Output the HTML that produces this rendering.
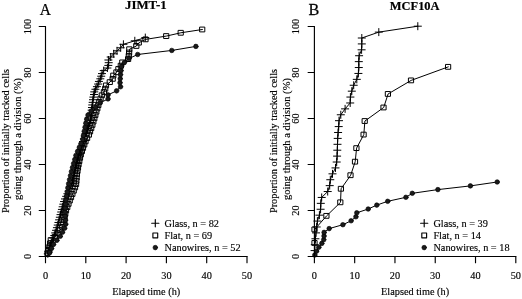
<!DOCTYPE html>
<html><head><meta charset="utf-8"><style>
html,body{margin:0;padding:0;background:#fff;}
svg{display:block;will-change:transform;}
.t{font-family:"Liberation Serif",serif;font-size:10.3px;fill:#000;stroke:#000;stroke-width:0.15px;}
.ttl{font-family:"Liberation Serif",serif;font-size:12.4px;font-weight:bold;fill:#000;stroke:#000;stroke-width:0.2px;}
.lt{font-family:"Liberation Serif",serif;font-size:18.3px;fill:#000;stroke:#000;stroke-width:0.25px;}
</style></head><body>
<svg width="522" height="299" viewBox="0 0 522 299">
<g fill="none" stroke="#000" stroke-width="1.15" stroke-linecap="round" stroke-linejoin="round">
<path d="M45.5,26.5V256.5H247" />
<path d="M39.2,256.50H45.5"/>
<text class="t" transform="translate(30.50,256.50) rotate(-90)" text-anchor="middle">0</text>
<path d="M39.2,210.50H45.5"/>
<text class="t" transform="translate(30.50,210.50) rotate(-90)" text-anchor="middle">20</text>
<path d="M39.2,164.50H45.5"/>
<text class="t" transform="translate(30.50,164.50) rotate(-90)" text-anchor="middle">40</text>
<path d="M39.2,118.50H45.5"/>
<text class="t" transform="translate(30.50,118.50) rotate(-90)" text-anchor="middle">60</text>
<path d="M39.2,72.50H45.5"/>
<text class="t" transform="translate(30.50,72.50) rotate(-90)" text-anchor="middle">80</text>
<path d="M39.2,26.50H45.5"/>
<text class="t" transform="translate(30.50,26.50) rotate(-90)" text-anchor="middle">100</text>
<path d="M45.50,256.5V262.7"/>
<text class="t" x="45.50" y="279.4" text-anchor="middle">0</text>
<path d="M85.80,256.5V262.7"/>
<text class="t" x="85.80" y="279.4" text-anchor="middle">10</text>
<path d="M126.10,256.5V262.7"/>
<text class="t" x="126.10" y="279.4" text-anchor="middle">20</text>
<path d="M166.40,256.5V262.7"/>
<text class="t" x="166.40" y="279.4" text-anchor="middle">30</text>
<path d="M206.70,256.5V262.7"/>
<text class="t" x="206.70" y="279.4" text-anchor="middle">40</text>
<path d="M247.00,256.5V262.7"/>
<text class="t" x="247.00" y="279.4" text-anchor="middle">50</text>
<text class="t" x="146.25" y="295" text-anchor="middle">Elapsed time (h)</text>
<text class="t" transform="translate(8.50,141) rotate(-90)" text-anchor="middle">Proportion of initially tracked cells</text>
<text class="t" style="font-size:10.55px" transform="translate(21.30,139.0) rotate(-90)" text-anchor="middle">going through a division (%)</text>
<text class="ttl" style="font-size:12.9px" x="145.85" y="9.4" text-anchor="middle">JIMT-1</text>
<text class="lt" style="font-size:17.2px" transform="translate(45.3,15.2) scale(0.9,1)" text-anchor="middle">A</text>
<path d="M151.70,223.20H158.90M155.30,219.60V226.80"/>
<text class="t" x="164.50" y="227.00">Glass, n = 82</text>
<rect x="152.90" y="233.00" width="4.8" height="4.8" fill="none"/>
<text class="t" x="164.50" y="239.20">Flat, n = 69</text>
<circle cx="155.30" cy="247.60" r="2.3" fill="#1a1a1a" stroke="#000" stroke-width="0.6"/>
<text class="t" x="164.50" y="251.40">Nanowires, n = 52</text><g stroke-width="1.0"><path d="M47.82,253.80 L48.62,251.19 L49.41,248.58 L50.21,245.97 L51.16,243.35 L52.20,240.74 L53.25,238.13 L54.29,235.52 L55.20,232.91 L56.07,230.30 L56.94,227.68 L57.75,225.07 L58.44,222.46 L59.14,219.85 L59.84,217.24 L60.53,214.63 L61.23,212.01 L61.94,209.40 L62.65,206.79 L63.36,204.18 L64.07,201.57 L64.99,198.96 L66.21,196.34 L67.42,193.73 L68.64,191.12 L69.86,188.51 L71.08,185.90 L71.90,183.29 L72.51,180.68 L73.12,178.06 L73.73,175.45 L74.34,172.84 L74.95,170.23 L75.60,167.62 L76.27,165.01 L76.93,162.39 L77.59,159.78 L78.25,157.17 L78.94,154.56 L79.76,151.95 L80.57,149.34 L81.39,146.72 L82.21,144.11 L83.03,141.50 L83.89,138.89 L84.80,136.28 L85.72,133.67 L86.63,131.06 L87.54,128.44 L88.46,125.83 L89.37,123.22 L90.29,120.61 L90.74,118.00 L91.05,115.39 L91.36,112.77 L91.66,110.16 L91.97,107.55 L92.28,104.94 L92.65,102.33 L93.00,99.72 L93.37,97.10 L94.00,94.49 L94.28,91.88 L95.44,89.27 L96.92,86.66 L98.11,84.05 L98.94,81.43 L100.33,78.82 L101.19,76.21 L102.00,73.60 L103.70,70.60 L107.40,68.00 L108.30,65.40 L108.70,62.70 L108.40,60.00 L110.70,57.00 L113.70,53.80 L117.00,50.80 L120.70,47.80 L123.40,44.30 L134.80,40.80 L145.30,37.60"/>
<path d="M44.22,253.80H51.42M47.82,250.20V257.40"/>
<path d="M45.02,251.19H52.22M48.62,247.59V254.79"/>
<path d="M45.81,248.58H53.01M49.41,244.98V252.18"/>
<path d="M46.61,245.97H53.81M50.21,242.37V249.57"/>
<path d="M47.56,243.35H54.76M51.16,239.75V246.95"/>
<path d="M48.60,240.74H55.80M52.20,237.14V244.34"/>
<path d="M49.65,238.13H56.85M53.25,234.53V241.73"/>
<path d="M50.69,235.52H57.89M54.29,231.92V239.12"/>
<path d="M51.60,232.91H58.80M55.20,229.31V236.51"/>
<path d="M52.47,230.30H59.67M56.07,226.70V233.90"/>
<path d="M53.34,227.68H60.54M56.94,224.08V231.28"/>
<path d="M54.15,225.07H61.35M57.75,221.47V228.67"/>
<path d="M54.84,222.46H62.04M58.44,218.86V226.06"/>
<path d="M55.54,219.85H62.74M59.14,216.25V223.45"/>
<path d="M56.24,217.24H63.44M59.84,213.64V220.84"/>
<path d="M56.93,214.63H64.13M60.53,211.03V218.23"/>
<path d="M57.63,212.01H64.83M61.23,208.41V215.61"/>
<path d="M58.34,209.40H65.54M61.94,205.80V213.00"/>
<path d="M59.05,206.79H66.25M62.65,203.19V210.39"/>
<path d="M59.76,204.18H66.96M63.36,200.58V207.78"/>
<path d="M60.47,201.57H67.67M64.07,197.97V205.17"/>
<path d="M61.39,198.96H68.59M64.99,195.36V202.56"/>
<path d="M62.61,196.34H69.81M66.21,192.74V199.94"/>
<path d="M63.82,193.73H71.02M67.42,190.13V197.33"/>
<path d="M65.04,191.12H72.24M68.64,187.52V194.72"/>
<path d="M66.26,188.51H73.46M69.86,184.91V192.11"/>
<path d="M67.48,185.90H74.68M71.08,182.30V189.50"/>
<path d="M68.30,183.29H75.50M71.90,179.69V186.89"/>
<path d="M68.91,180.68H76.11M72.51,177.08V184.28"/>
<path d="M69.52,178.06H76.72M73.12,174.46V181.66"/>
<path d="M70.13,175.45H77.33M73.73,171.85V179.05"/>
<path d="M70.74,172.84H77.94M74.34,169.24V176.44"/>
<path d="M71.35,170.23H78.55M74.95,166.63V173.83"/>
<path d="M72.00,167.62H79.20M75.60,164.02V171.22"/>
<path d="M72.67,165.01H79.87M76.27,161.41V168.61"/>
<path d="M73.33,162.39H80.53M76.93,158.79V165.99"/>
<path d="M73.99,159.78H81.19M77.59,156.18V163.38"/>
<path d="M74.65,157.17H81.85M78.25,153.57V160.77"/>
<path d="M75.34,154.56H82.54M78.94,150.96V158.16"/>
<path d="M76.16,151.95H83.36M79.76,148.35V155.55"/>
<path d="M76.97,149.34H84.17M80.57,145.74V152.94"/>
<path d="M77.79,146.72H84.99M81.39,143.12V150.32"/>
<path d="M78.61,144.11H85.81M82.21,140.51V147.71"/>
<path d="M79.43,141.50H86.63M83.03,137.90V145.10"/>
<path d="M80.29,138.89H87.49M83.89,135.29V142.49"/>
<path d="M81.20,136.28H88.40M84.80,132.68V139.88"/>
<path d="M82.12,133.67H89.32M85.72,130.07V137.27"/>
<path d="M83.03,131.06H90.23M86.63,127.46V134.66"/>
<path d="M83.94,128.44H91.14M87.54,124.84V132.04"/>
<path d="M84.86,125.83H92.06M88.46,122.23V129.43"/>
<path d="M85.77,123.22H92.97M89.37,119.62V126.82"/>
<path d="M86.69,120.61H93.89M90.29,117.01V124.21"/>
<path d="M87.14,118.00H94.34M90.74,114.40V121.60"/>
<path d="M87.45,115.39H94.65M91.05,111.79V118.99"/>
<path d="M87.76,112.77H94.96M91.36,109.17V116.37"/>
<path d="M88.06,110.16H95.26M91.66,106.56V113.76"/>
<path d="M88.37,107.55H95.57M91.97,103.95V111.15"/>
<path d="M88.68,104.94H95.88M92.28,101.34V108.54"/>
<path d="M89.05,102.33H96.25M92.65,98.73V105.93"/>
<path d="M89.40,99.72H96.60M93.00,96.12V103.32"/>
<path d="M89.77,97.10H96.97M93.37,93.50V100.70"/>
<path d="M90.40,94.49H97.60M94.00,90.89V98.09"/>
<path d="M90.68,91.88H97.88M94.28,88.28V95.48"/>
<path d="M91.84,89.27H99.04M95.44,85.67V92.87"/>
<path d="M93.32,86.66H100.52M96.92,83.06V90.26"/>
<path d="M94.51,84.05H101.71M98.11,80.45V87.65"/>
<path d="M95.34,81.43H102.54M98.94,77.83V85.03"/>
<path d="M96.73,78.82H103.93M100.33,75.22V82.42"/>
<path d="M97.59,76.21H104.79M101.19,72.61V79.81"/>
<path d="M98.40,73.60H105.60M102.00,70.00V77.20"/>
<path d="M100.10,70.60H107.30M103.70,67.00V74.20"/>
<path d="M103.80,68.00H111.00M107.40,64.40V71.60"/>
<path d="M104.70,65.40H111.90M108.30,61.80V69.00"/>
<path d="M105.10,62.70H112.30M108.70,59.10V66.30"/>
<path d="M104.80,60.00H112.00M108.40,56.40V63.60"/>
<path d="M107.10,57.00H114.30M110.70,53.40V60.60"/>
<path d="M110.10,53.80H117.30M113.70,50.20V57.40"/>
<path d="M113.40,50.80H120.60M117.00,47.20V54.40"/>
<path d="M117.10,47.80H124.30M120.70,44.20V51.40"/>
<path d="M119.80,44.30H127.00M123.40,40.70V47.90"/>
<path d="M131.20,40.80H138.40M134.80,37.20V44.40"/>
<path d="M141.70,37.60H148.90M145.30,34.00V41.20"/>
</g><g stroke-width="1.0"><path d="M47.66,253.21 L48.82,249.92 L49.76,246.63 L50.37,243.34 L50.99,240.05 L55.05,236.76 L57.77,233.47 L60.07,230.18 L62.38,226.89 L63.48,223.60 L64.14,220.31 L64.80,217.02 L65.45,213.73 L66.21,210.44 L67.44,207.15 L68.66,203.86 L69.89,200.57 L71.21,197.28 L72.54,193.99 L73.88,190.70 L75.22,187.41 L76.27,184.12 L76.53,180.83 L76.80,177.54 L77.12,174.25 L77.65,170.96 L78.17,167.67 L78.74,164.38 L79.46,161.09 L80.18,157.80 L80.97,154.51 L82.08,151.22 L83.19,147.93 L84.41,144.64 L85.68,141.35 L87.29,138.06 L89.08,134.77 L90.23,131.48 L91.38,128.19 L92.53,124.90 L93.53,121.61 L94.52,118.32 L95.52,115.03 L96.52,111.74 L97.52,108.45 L98.51,105.16 L99.51,101.87 L100.76,98.58 L102.01,95.29 L104.10,92.00 L105.40,88.71 L106.20,85.42 L109.97,82.13 L112.86,78.84 L113.49,75.55 L116.62,72.26 L118.62,68.97 L121.01,65.68 L122.52,62.39 L128.30,59.10 L129.00,55.81 L129.30,52.52 L129.50,49.23 L136.51,45.94 L138.96,42.65 L145.70,39.36 L166.40,36.07 L180.90,32.78 L202.40,29.49"/>
<rect x="45.26" y="250.81" width="4.8" height="4.8" fill="none"/>
<rect x="46.42" y="247.52" width="4.8" height="4.8" fill="none"/>
<rect x="47.36" y="244.23" width="4.8" height="4.8" fill="none"/>
<rect x="47.97" y="240.94" width="4.8" height="4.8" fill="none"/>
<rect x="48.59" y="237.65" width="4.8" height="4.8" fill="none"/>
<rect x="52.65" y="234.36" width="4.8" height="4.8" fill="none"/>
<rect x="55.37" y="231.07" width="4.8" height="4.8" fill="none"/>
<rect x="57.67" y="227.78" width="4.8" height="4.8" fill="none"/>
<rect x="59.98" y="224.49" width="4.8" height="4.8" fill="none"/>
<rect x="61.08" y="221.20" width="4.8" height="4.8" fill="none"/>
<rect x="61.74" y="217.91" width="4.8" height="4.8" fill="none"/>
<rect x="62.40" y="214.62" width="4.8" height="4.8" fill="none"/>
<rect x="63.05" y="211.33" width="4.8" height="4.8" fill="none"/>
<rect x="63.81" y="208.04" width="4.8" height="4.8" fill="none"/>
<rect x="65.03" y="204.75" width="4.8" height="4.8" fill="none"/>
<rect x="66.26" y="201.46" width="4.8" height="4.8" fill="none"/>
<rect x="67.49" y="198.17" width="4.8" height="4.8" fill="none"/>
<rect x="68.81" y="194.88" width="4.8" height="4.8" fill="none"/>
<rect x="70.14" y="191.59" width="4.8" height="4.8" fill="none"/>
<rect x="71.48" y="188.30" width="4.8" height="4.8" fill="none"/>
<rect x="72.82" y="185.01" width="4.8" height="4.8" fill="none"/>
<rect x="73.87" y="181.72" width="4.8" height="4.8" fill="none"/>
<rect x="74.13" y="178.43" width="4.8" height="4.8" fill="none"/>
<rect x="74.40" y="175.14" width="4.8" height="4.8" fill="none"/>
<rect x="74.72" y="171.85" width="4.8" height="4.8" fill="none"/>
<rect x="75.25" y="168.56" width="4.8" height="4.8" fill="none"/>
<rect x="75.77" y="165.27" width="4.8" height="4.8" fill="none"/>
<rect x="76.34" y="161.98" width="4.8" height="4.8" fill="none"/>
<rect x="77.06" y="158.69" width="4.8" height="4.8" fill="none"/>
<rect x="77.78" y="155.40" width="4.8" height="4.8" fill="none"/>
<rect x="78.57" y="152.11" width="4.8" height="4.8" fill="none"/>
<rect x="79.68" y="148.82" width="4.8" height="4.8" fill="none"/>
<rect x="80.79" y="145.53" width="4.8" height="4.8" fill="none"/>
<rect x="82.01" y="142.24" width="4.8" height="4.8" fill="none"/>
<rect x="83.28" y="138.95" width="4.8" height="4.8" fill="none"/>
<rect x="84.89" y="135.66" width="4.8" height="4.8" fill="none"/>
<rect x="86.68" y="132.37" width="4.8" height="4.8" fill="none"/>
<rect x="87.83" y="129.08" width="4.8" height="4.8" fill="none"/>
<rect x="88.98" y="125.79" width="4.8" height="4.8" fill="none"/>
<rect x="90.13" y="122.50" width="4.8" height="4.8" fill="none"/>
<rect x="91.13" y="119.21" width="4.8" height="4.8" fill="none"/>
<rect x="92.12" y="115.92" width="4.8" height="4.8" fill="none"/>
<rect x="93.12" y="112.63" width="4.8" height="4.8" fill="none"/>
<rect x="94.12" y="109.34" width="4.8" height="4.8" fill="none"/>
<rect x="95.12" y="106.05" width="4.8" height="4.8" fill="none"/>
<rect x="96.11" y="102.76" width="4.8" height="4.8" fill="none"/>
<rect x="97.11" y="99.47" width="4.8" height="4.8" fill="none"/>
<rect x="98.36" y="96.18" width="4.8" height="4.8" fill="none"/>
<rect x="99.61" y="92.89" width="4.8" height="4.8" fill="none"/>
<rect x="101.70" y="89.60" width="4.8" height="4.8" fill="none"/>
<rect x="103.00" y="86.31" width="4.8" height="4.8" fill="none"/>
<rect x="103.80" y="83.02" width="4.8" height="4.8" fill="none"/>
<rect x="107.57" y="79.73" width="4.8" height="4.8" fill="none"/>
<rect x="110.46" y="76.44" width="4.8" height="4.8" fill="none"/>
<rect x="111.09" y="73.15" width="4.8" height="4.8" fill="none"/>
<rect x="114.22" y="69.86" width="4.8" height="4.8" fill="none"/>
<rect x="116.22" y="66.57" width="4.8" height="4.8" fill="none"/>
<rect x="118.61" y="63.28" width="4.8" height="4.8" fill="none"/>
<rect x="120.12" y="59.99" width="4.8" height="4.8" fill="none"/>
<rect x="125.90" y="56.70" width="4.8" height="4.8" fill="none"/>
<rect x="126.60" y="53.41" width="4.8" height="4.8" fill="none"/>
<rect x="126.90" y="50.12" width="4.8" height="4.8" fill="none"/>
<rect x="127.10" y="46.83" width="4.8" height="4.8" fill="none"/>
<rect x="134.11" y="43.54" width="4.8" height="4.8" fill="none"/>
<rect x="136.56" y="40.25" width="4.8" height="4.8" fill="none"/>
<rect x="143.30" y="36.96" width="4.8" height="4.8" fill="none"/>
<rect x="164.00" y="33.67" width="4.8" height="4.8" fill="none"/>
<rect x="178.50" y="30.38" width="4.8" height="4.8" fill="none"/>
<rect x="200.00" y="27.09" width="4.8" height="4.8" fill="none"/>
</g><g stroke-width="1.0"><path d="M49.76,252.46 L51.51,248.42 L53.52,244.38 L56.88,240.34 L60.25,236.30 L62.48,232.26 L64.62,228.22 L65.70,224.18 L65.49,220.14 L65.27,216.10 L65.06,212.06 L65.27,208.02 L65.64,203.98 L66.01,199.94 L66.63,195.89 L67.25,191.85 L67.87,187.81 L68.59,183.77 L69.53,179.73 L70.47,175.69 L71.41,171.65 L72.47,167.61 L73.60,163.57 L74.73,159.53 L75.86,155.49 L77.56,151.45 L79.34,147.41 L81.12,143.37 L82.73,139.33 L83.50,135.29 L84.26,131.25 L85.03,127.21 L85.80,123.17 L86.68,119.13 L87.97,115.09 L91.16,111.05 L95.42,107.01 L100.00,102.97 L108.00,98.93 L108.00,94.89 L116.60,90.85 L120.50,86.81 L120.00,82.76 L120.20,78.72 L120.50,74.68 L121.00,70.64 L121.50,66.60 L124.40,62.56 L129.00,58.52 L137.70,54.48 L171.80,50.44 L195.90,46.40"/>
<circle cx="49.76" cy="252.46" r="2.3" fill="#1a1a1a" stroke="#000" stroke-width="0.6"/>
<circle cx="51.51" cy="248.42" r="2.3" fill="#1a1a1a" stroke="#000" stroke-width="0.6"/>
<circle cx="53.52" cy="244.38" r="2.3" fill="#1a1a1a" stroke="#000" stroke-width="0.6"/>
<circle cx="56.88" cy="240.34" r="2.3" fill="#1a1a1a" stroke="#000" stroke-width="0.6"/>
<circle cx="60.25" cy="236.30" r="2.3" fill="#1a1a1a" stroke="#000" stroke-width="0.6"/>
<circle cx="62.48" cy="232.26" r="2.3" fill="#1a1a1a" stroke="#000" stroke-width="0.6"/>
<circle cx="64.62" cy="228.22" r="2.3" fill="#1a1a1a" stroke="#000" stroke-width="0.6"/>
<circle cx="65.70" cy="224.18" r="2.3" fill="#1a1a1a" stroke="#000" stroke-width="0.6"/>
<circle cx="65.49" cy="220.14" r="2.3" fill="#1a1a1a" stroke="#000" stroke-width="0.6"/>
<circle cx="65.27" cy="216.10" r="2.3" fill="#1a1a1a" stroke="#000" stroke-width="0.6"/>
<circle cx="65.06" cy="212.06" r="2.3" fill="#1a1a1a" stroke="#000" stroke-width="0.6"/>
<circle cx="65.27" cy="208.02" r="2.3" fill="#1a1a1a" stroke="#000" stroke-width="0.6"/>
<circle cx="65.64" cy="203.98" r="2.3" fill="#1a1a1a" stroke="#000" stroke-width="0.6"/>
<circle cx="66.01" cy="199.94" r="2.3" fill="#1a1a1a" stroke="#000" stroke-width="0.6"/>
<circle cx="66.63" cy="195.89" r="2.3" fill="#1a1a1a" stroke="#000" stroke-width="0.6"/>
<circle cx="67.25" cy="191.85" r="2.3" fill="#1a1a1a" stroke="#000" stroke-width="0.6"/>
<circle cx="67.87" cy="187.81" r="2.3" fill="#1a1a1a" stroke="#000" stroke-width="0.6"/>
<circle cx="68.59" cy="183.77" r="2.3" fill="#1a1a1a" stroke="#000" stroke-width="0.6"/>
<circle cx="69.53" cy="179.73" r="2.3" fill="#1a1a1a" stroke="#000" stroke-width="0.6"/>
<circle cx="70.47" cy="175.69" r="2.3" fill="#1a1a1a" stroke="#000" stroke-width="0.6"/>
<circle cx="71.41" cy="171.65" r="2.3" fill="#1a1a1a" stroke="#000" stroke-width="0.6"/>
<circle cx="72.47" cy="167.61" r="2.3" fill="#1a1a1a" stroke="#000" stroke-width="0.6"/>
<circle cx="73.60" cy="163.57" r="2.3" fill="#1a1a1a" stroke="#000" stroke-width="0.6"/>
<circle cx="74.73" cy="159.53" r="2.3" fill="#1a1a1a" stroke="#000" stroke-width="0.6"/>
<circle cx="75.86" cy="155.49" r="2.3" fill="#1a1a1a" stroke="#000" stroke-width="0.6"/>
<circle cx="77.56" cy="151.45" r="2.3" fill="#1a1a1a" stroke="#000" stroke-width="0.6"/>
<circle cx="79.34" cy="147.41" r="2.3" fill="#1a1a1a" stroke="#000" stroke-width="0.6"/>
<circle cx="81.12" cy="143.37" r="2.3" fill="#1a1a1a" stroke="#000" stroke-width="0.6"/>
<circle cx="82.73" cy="139.33" r="2.3" fill="#1a1a1a" stroke="#000" stroke-width="0.6"/>
<circle cx="83.50" cy="135.29" r="2.3" fill="#1a1a1a" stroke="#000" stroke-width="0.6"/>
<circle cx="84.26" cy="131.25" r="2.3" fill="#1a1a1a" stroke="#000" stroke-width="0.6"/>
<circle cx="85.03" cy="127.21" r="2.3" fill="#1a1a1a" stroke="#000" stroke-width="0.6"/>
<circle cx="85.80" cy="123.17" r="2.3" fill="#1a1a1a" stroke="#000" stroke-width="0.6"/>
<circle cx="86.68" cy="119.13" r="2.3" fill="#1a1a1a" stroke="#000" stroke-width="0.6"/>
<circle cx="87.97" cy="115.09" r="2.3" fill="#1a1a1a" stroke="#000" stroke-width="0.6"/>
<circle cx="91.16" cy="111.05" r="2.3" fill="#1a1a1a" stroke="#000" stroke-width="0.6"/>
<circle cx="95.42" cy="107.01" r="2.3" fill="#1a1a1a" stroke="#000" stroke-width="0.6"/>
<circle cx="100.00" cy="102.97" r="2.3" fill="#1a1a1a" stroke="#000" stroke-width="0.6"/>
<circle cx="108.00" cy="98.93" r="2.3" fill="#1a1a1a" stroke="#000" stroke-width="0.6"/>
<circle cx="108.00" cy="94.89" r="2.3" fill="#1a1a1a" stroke="#000" stroke-width="0.6"/>
<circle cx="116.60" cy="90.85" r="2.3" fill="#1a1a1a" stroke="#000" stroke-width="0.6"/>
<circle cx="120.50" cy="86.81" r="2.3" fill="#1a1a1a" stroke="#000" stroke-width="0.6"/>
<circle cx="120.00" cy="82.76" r="2.3" fill="#1a1a1a" stroke="#000" stroke-width="0.6"/>
<circle cx="120.20" cy="78.72" r="2.3" fill="#1a1a1a" stroke="#000" stroke-width="0.6"/>
<circle cx="120.50" cy="74.68" r="2.3" fill="#1a1a1a" stroke="#000" stroke-width="0.6"/>
<circle cx="121.00" cy="70.64" r="2.3" fill="#1a1a1a" stroke="#000" stroke-width="0.6"/>
<circle cx="121.50" cy="66.60" r="2.3" fill="#1a1a1a" stroke="#000" stroke-width="0.6"/>
<circle cx="124.40" cy="62.56" r="2.3" fill="#1a1a1a" stroke="#000" stroke-width="0.6"/>
<circle cx="129.00" cy="58.52" r="2.3" fill="#1a1a1a" stroke="#000" stroke-width="0.6"/>
<circle cx="137.70" cy="54.48" r="2.3" fill="#1a1a1a" stroke="#000" stroke-width="0.6"/>
<circle cx="171.80" cy="50.44" r="2.3" fill="#1a1a1a" stroke="#000" stroke-width="0.6"/>
<circle cx="195.90" cy="46.40" r="2.3" fill="#1a1a1a" stroke="#000" stroke-width="0.6"/>
</g><g stroke-width="1.0"><path d="M314.60,250.59 L314.80,244.69 L315.40,238.78 L316.00,232.88 L316.70,226.97 L317.40,221.07 L319.40,215.16 L320.60,209.26 L320.80,203.35 L321.70,197.45 L327.70,191.54 L329.70,185.64 L330.30,179.73 L332.50,173.83 L335.50,167.92 L336.70,162.02 L337.10,156.11 L337.30,150.21 L337.50,144.30 L337.70,138.40 L338.10,132.49 L338.70,126.59 L339.00,120.68 L340.80,114.78 L345.10,108.87 L350.20,102.97 L350.40,97.06 L351.80,91.16 L353.70,85.25 L356.80,79.35 L358.40,73.44 L358.80,67.54 L358.80,61.63 L359.10,55.73 L361.60,49.82 L361.80,43.92 L361.80,38.01 L378.80,32.11 L417.80,26.20"/>
<path d="M311.00,250.59H318.20M314.60,246.99V254.19"/>
<path d="M311.20,244.69H318.40M314.80,241.09V248.29"/>
<path d="M311.80,238.78H319.00M315.40,235.18V242.38"/>
<path d="M312.40,232.88H319.60M316.00,229.28V236.48"/>
<path d="M313.10,226.97H320.30M316.70,223.37V230.57"/>
<path d="M313.80,221.07H321.00M317.40,217.47V224.67"/>
<path d="M315.80,215.16H323.00M319.40,211.56V218.76"/>
<path d="M317.00,209.26H324.20M320.60,205.66V212.86"/>
<path d="M317.20,203.35H324.40M320.80,199.75V206.95"/>
<path d="M318.10,197.45H325.30M321.70,193.85V201.05"/>
<path d="M324.10,191.54H331.30M327.70,187.94V195.14"/>
<path d="M326.10,185.64H333.30M329.70,182.04V189.24"/>
<path d="M326.70,179.73H333.90M330.30,176.13V183.33"/>
<path d="M328.90,173.83H336.10M332.50,170.23V177.43"/>
<path d="M331.90,167.92H339.10M335.50,164.32V171.52"/>
<path d="M333.10,162.02H340.30M336.70,158.42V165.62"/>
<path d="M333.50,156.11H340.70M337.10,152.51V159.71"/>
<path d="M333.70,150.21H340.90M337.30,146.61V153.81"/>
<path d="M333.90,144.30H341.10M337.50,140.70V147.90"/>
<path d="M334.10,138.40H341.30M337.70,134.80V142.00"/>
<path d="M334.50,132.49H341.70M338.10,128.89V136.09"/>
<path d="M335.10,126.59H342.30M338.70,122.99V130.19"/>
<path d="M335.40,120.68H342.60M339.00,117.08V124.28"/>
<path d="M337.20,114.78H344.40M340.80,111.18V118.38"/>
<path d="M341.50,108.87H348.70M345.10,105.27V112.47"/>
<path d="M346.60,102.97H353.80M350.20,99.37V106.57"/>
<path d="M346.80,97.06H354.00M350.40,93.46V100.66"/>
<path d="M348.20,91.16H355.40M351.80,87.56V94.76"/>
<path d="M350.10,85.25H357.30M353.70,81.65V88.85"/>
<path d="M353.20,79.35H360.40M356.80,75.75V82.95"/>
<path d="M354.80,73.44H362.00M358.40,69.84V77.04"/>
<path d="M355.20,67.54H362.40M358.80,63.94V71.14"/>
<path d="M355.20,61.63H362.40M358.80,58.03V65.23"/>
<path d="M355.50,55.73H362.70M359.10,52.13V59.33"/>
<path d="M358.00,49.82H365.20M361.60,46.22V53.42"/>
<path d="M358.20,43.92H365.40M361.80,40.32V47.52"/>
<path d="M358.20,38.01H365.40M361.80,34.41V41.61"/>
<path d="M375.20,32.11H382.40M378.80,28.51V35.71"/>
<path d="M414.20,26.20H421.40M417.80,22.60V29.80"/>
</g><g stroke-width="1.0"><path d="M314.70,242.95 L314.70,229.41 L326.60,215.86 L340.50,202.31 L341.10,188.76 L350.70,175.22 L355.20,161.67 L356.60,148.12 L363.80,134.58 L364.90,121.03 L383.70,107.48 L388.10,93.94 L411.20,80.39 L448.30,66.84"/>
<rect x="312.30" y="240.55" width="4.8" height="4.8" fill="none"/>
<rect x="312.30" y="227.01" width="4.8" height="4.8" fill="none"/>
<rect x="324.20" y="213.46" width="4.8" height="4.8" fill="none"/>
<rect x="338.10" y="199.91" width="4.8" height="4.8" fill="none"/>
<rect x="338.70" y="186.36" width="4.8" height="4.8" fill="none"/>
<rect x="348.30" y="172.82" width="4.8" height="4.8" fill="none"/>
<rect x="352.80" y="159.27" width="4.8" height="4.8" fill="none"/>
<rect x="354.20" y="145.72" width="4.8" height="4.8" fill="none"/>
<rect x="361.40" y="132.18" width="4.8" height="4.8" fill="none"/>
<rect x="362.50" y="118.63" width="4.8" height="4.8" fill="none"/>
<rect x="381.30" y="105.08" width="4.8" height="4.8" fill="none"/>
<rect x="385.70" y="91.54" width="4.8" height="4.8" fill="none"/>
<rect x="408.80" y="77.99" width="4.8" height="4.8" fill="none"/>
<rect x="445.90" y="64.44" width="4.8" height="4.8" fill="none"/>
</g><g stroke-width="1.0"><path d="M314.80,255.00 L316.50,251.20 L318.80,247.30 L321.80,243.40 L323.70,239.70 L324.00,236.00 L324.10,232.40 L329.20,228.60 L342.90,224.70 L351.10,220.80 L355.90,216.80 L356.80,212.80 L368.20,209.00 L376.80,205.10 L387.70,201.30 L405.90,197.30 L412.30,193.30 L437.90,189.60 L470.40,185.90 L497.20,182.00"/>
<circle cx="314.80" cy="255.00" r="2.3" fill="#1a1a1a" stroke="#000" stroke-width="0.6"/>
<circle cx="316.50" cy="251.20" r="2.3" fill="#1a1a1a" stroke="#000" stroke-width="0.6"/>
<circle cx="318.80" cy="247.30" r="2.3" fill="#1a1a1a" stroke="#000" stroke-width="0.6"/>
<circle cx="321.80" cy="243.40" r="2.3" fill="#1a1a1a" stroke="#000" stroke-width="0.6"/>
<circle cx="323.70" cy="239.70" r="2.3" fill="#1a1a1a" stroke="#000" stroke-width="0.6"/>
<circle cx="324.00" cy="236.00" r="2.3" fill="#1a1a1a" stroke="#000" stroke-width="0.6"/>
<circle cx="324.10" cy="232.40" r="2.3" fill="#1a1a1a" stroke="#000" stroke-width="0.6"/>
<circle cx="329.20" cy="228.60" r="2.3" fill="#1a1a1a" stroke="#000" stroke-width="0.6"/>
<circle cx="342.90" cy="224.70" r="2.3" fill="#1a1a1a" stroke="#000" stroke-width="0.6"/>
<circle cx="351.10" cy="220.80" r="2.3" fill="#1a1a1a" stroke="#000" stroke-width="0.6"/>
<circle cx="355.90" cy="216.80" r="2.3" fill="#1a1a1a" stroke="#000" stroke-width="0.6"/>
<circle cx="356.80" cy="212.80" r="2.3" fill="#1a1a1a" stroke="#000" stroke-width="0.6"/>
<circle cx="368.20" cy="209.00" r="2.3" fill="#1a1a1a" stroke="#000" stroke-width="0.6"/>
<circle cx="376.80" cy="205.10" r="2.3" fill="#1a1a1a" stroke="#000" stroke-width="0.6"/>
<circle cx="387.70" cy="201.30" r="2.3" fill="#1a1a1a" stroke="#000" stroke-width="0.6"/>
<circle cx="405.90" cy="197.30" r="2.3" fill="#1a1a1a" stroke="#000" stroke-width="0.6"/>
<circle cx="412.30" cy="193.30" r="2.3" fill="#1a1a1a" stroke="#000" stroke-width="0.6"/>
<circle cx="437.90" cy="189.60" r="2.3" fill="#1a1a1a" stroke="#000" stroke-width="0.6"/>
<circle cx="470.40" cy="185.90" r="2.3" fill="#1a1a1a" stroke="#000" stroke-width="0.6"/>
<circle cx="497.20" cy="182.00" r="2.3" fill="#1a1a1a" stroke="#000" stroke-width="0.6"/>
</g><path d="M314.4,26.5V256.5H515.8" />
<path d="M308.09999999999997,256.50H314.4"/>
<text class="t" transform="translate(299.40,256.50) rotate(-90)" text-anchor="middle">0</text>
<path d="M308.09999999999997,210.50H314.4"/>
<text class="t" transform="translate(299.40,210.50) rotate(-90)" text-anchor="middle">20</text>
<path d="M308.09999999999997,164.50H314.4"/>
<text class="t" transform="translate(299.40,164.50) rotate(-90)" text-anchor="middle">40</text>
<path d="M308.09999999999997,118.50H314.4"/>
<text class="t" transform="translate(299.40,118.50) rotate(-90)" text-anchor="middle">60</text>
<path d="M308.09999999999997,72.50H314.4"/>
<text class="t" transform="translate(299.40,72.50) rotate(-90)" text-anchor="middle">80</text>
<path d="M308.09999999999997,26.50H314.4"/>
<text class="t" transform="translate(299.40,26.50) rotate(-90)" text-anchor="middle">100</text>
<path d="M314.40,256.5V262.7"/>
<text class="t" x="314.40" y="279.4" text-anchor="middle">0</text>
<path d="M354.68,256.5V262.7"/>
<text class="t" x="354.68" y="279.4" text-anchor="middle">10</text>
<path d="M394.96,256.5V262.7"/>
<text class="t" x="394.96" y="279.4" text-anchor="middle">20</text>
<path d="M435.24,256.5V262.7"/>
<text class="t" x="435.24" y="279.4" text-anchor="middle">30</text>
<path d="M475.52,256.5V262.7"/>
<text class="t" x="475.52" y="279.4" text-anchor="middle">40</text>
<path d="M515.80,256.5V262.7"/>
<text class="t" x="515.80" y="279.4" text-anchor="middle">50</text>
<text class="t" x="415.10" y="295" text-anchor="middle">Elapsed time (h)</text>
<text class="t" transform="translate(277.40,141) rotate(-90)" text-anchor="middle">Proportion of initially tracked cells</text>
<text class="t" style="font-size:10.55px" transform="translate(290.20,139.0) rotate(-90)" text-anchor="middle">going through a division (%)</text>
<text class="ttl" style="font-size:12.45px" x="414.70" y="9.8" text-anchor="middle">MCF10A</text>
<text class="lt" style="font-size:17px" transform="translate(313.9,15.3) scale(0.95,1)" text-anchor="middle">B</text>
<path d="M420.60,223.20H427.80M424.20,219.60V226.80"/>
<text class="t" x="433.40" y="227.00">Glass, n = 39</text>
<rect x="421.80" y="233.00" width="4.8" height="4.8" fill="none"/>
<text class="t" x="433.40" y="239.20">Flat, n = 14</text>
<circle cx="424.20" cy="247.60" r="2.3" fill="#1a1a1a" stroke="#000" stroke-width="0.6"/>
<text class="t" x="433.40" y="251.40">Nanowires, n = 18</text>
</g>
</svg>
</body></html>
